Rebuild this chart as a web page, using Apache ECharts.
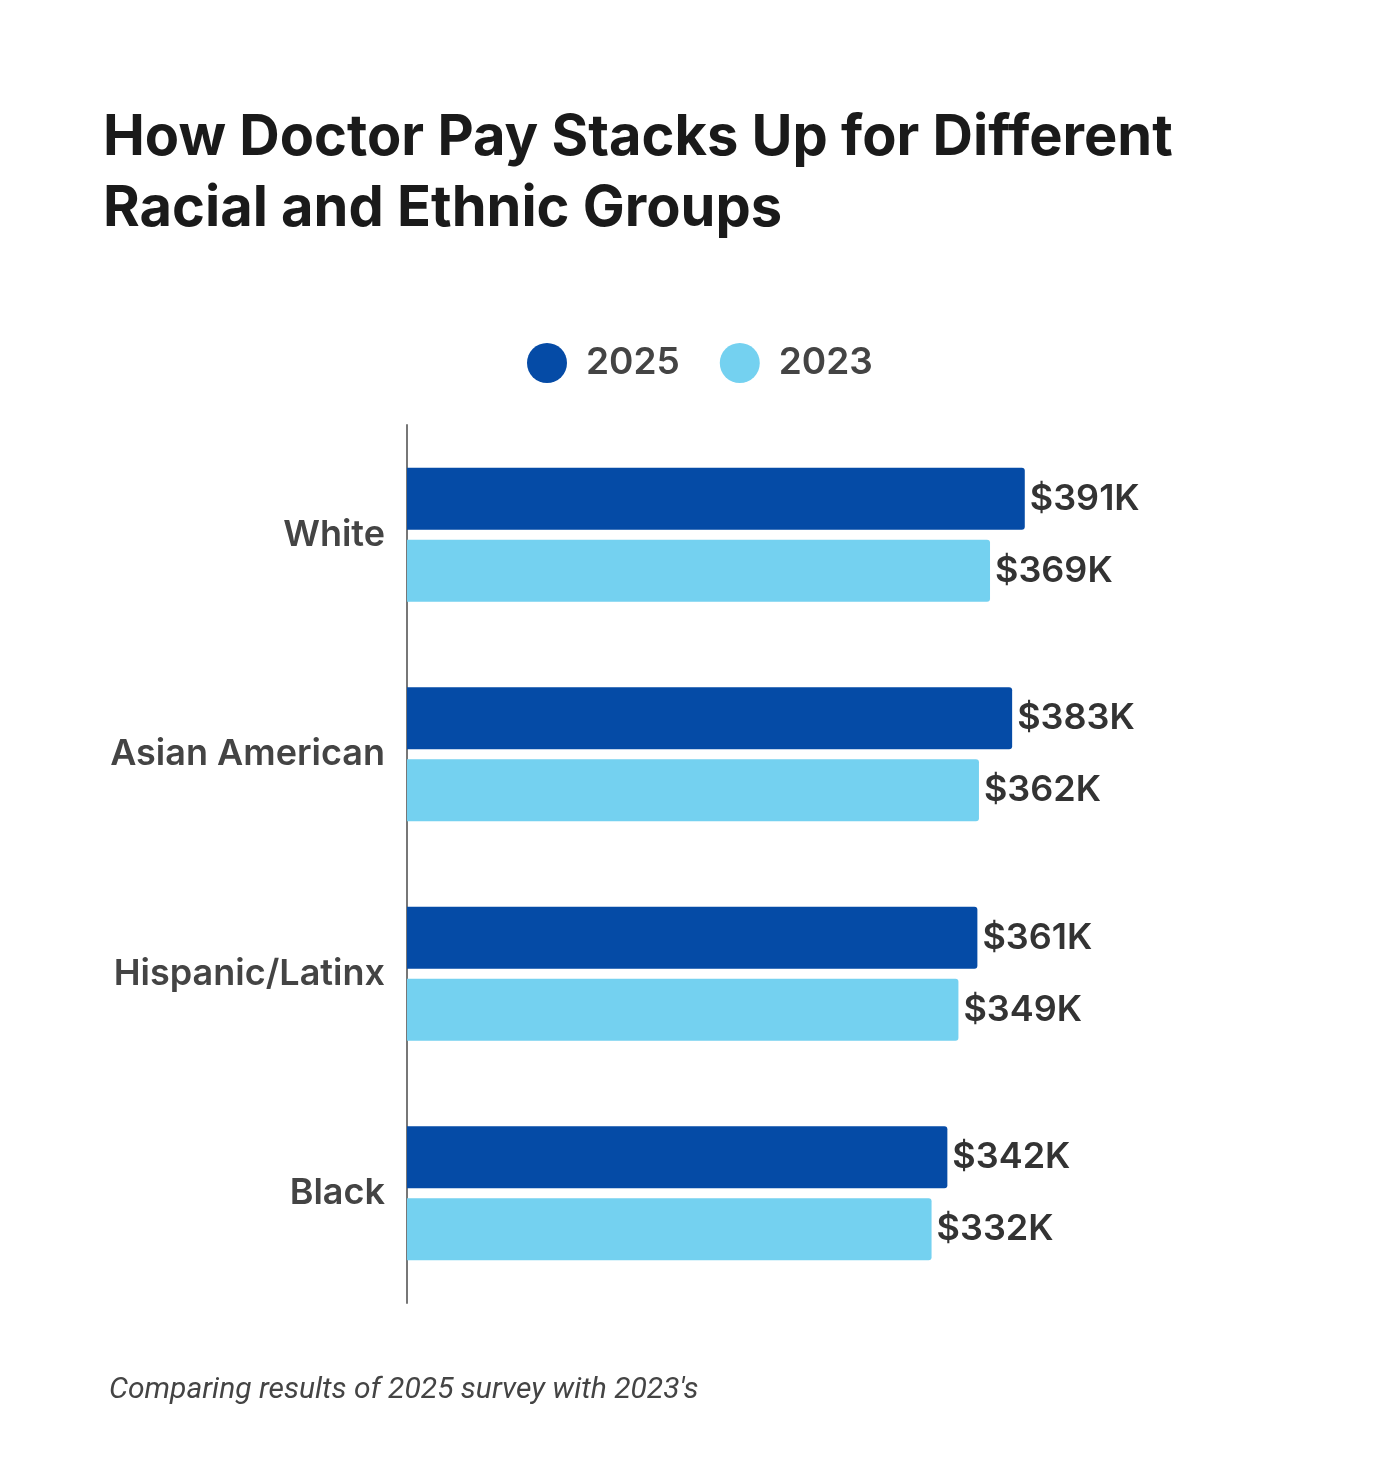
<!DOCTYPE html>
<html><head><meta charset="utf-8">
<script src="https://cdn.jsdelivr.net/npm/echarts@6/dist/echarts.min.js"></script>
<style>html,body{margin:0;padding:0;background:#fff}#c{width:1380px;height:1473px}</style>
</head><body><div id="c"></div>
<script>
const categories = ["White", "Asian American", "Hispanic/Latinx", "Black"];
const values2025 = [391, 383, 361, 342];
const values2023 = [369, 362, 349, 332];
const seriesNames = ["2025", "2023"];
const titleText = "How Doctor Pay Stacks Up for Different\nRacial and Ethnic Groups";
const subtitleText = "Comparing results of 2025 survey with 2023's";

const chart = echarts.init(document.getElementById('c'));
const labelCfg = {
  show: true, position: 'right', distance: 5,
  formatter: p => '$' + p.value + 'K',
  fontFamily: 'Inter', fontSize: 36, fontWeight: 600, color: '#333'
};
chart.setOption({
  backgroundColor: '#fff',
  animation: false,
  title: [{
    text: titleText, left: 98, top: 98,
    textStyle: { fontFamily: 'Inter', fontWeight: 'bold', fontSize: 56, lineHeight: 71, color: '#1a1a1a' }
  }, {
    text: subtitleText, left: 104, top: 1370,
    textStyle: { fontFamily: 'Roboto', fontStyle: 'italic', fontWeight: 'normal', fontSize: 30, color: '#444' }
  }],
  legend: {
    left: 522, top: 338, icon: 'circle', itemWidth: 40, itemHeight: 40, itemGap: 40,
    data: seriesNames,
    textStyle: { fontFamily: 'Inter', fontSize: 37, fontWeight: 600, color: '#444', padding: [0, 0, 0, 14] }
  },
  grid: { left: 407, top: 425, bottom: 170, right: 183, containLabel: false },
  xAxis: { type: 'value', min: 0, max: 500, show: false, splitLine: { show: false } },
  yAxis: {
    type: 'category', data: categories, inverse: true,
    axisLine: { show: true, lineStyle: { color: '#777', width: 2 } },
    axisTick: { show: false },
    axisLabel: { margin: 22, fontFamily: 'Inter', fontSize: 36, fontWeight: 600, color: '#444' }
  },
  series: [{
    name: seriesNames[0], type: 'bar', data: values2025, barWidth: 62, barGap: '16%',
    itemStyle: { color: '#054BA6', borderRadius: [0, 3, 3, 0] }, label: labelCfg
  }, {
    name: seriesNames[1], type: 'bar', data: values2023, barWidth: 62,
    itemStyle: { color: '#74D1F0', borderRadius: [0, 3, 3, 0] }, label: labelCfg
  }]
});
</script></body></html>
